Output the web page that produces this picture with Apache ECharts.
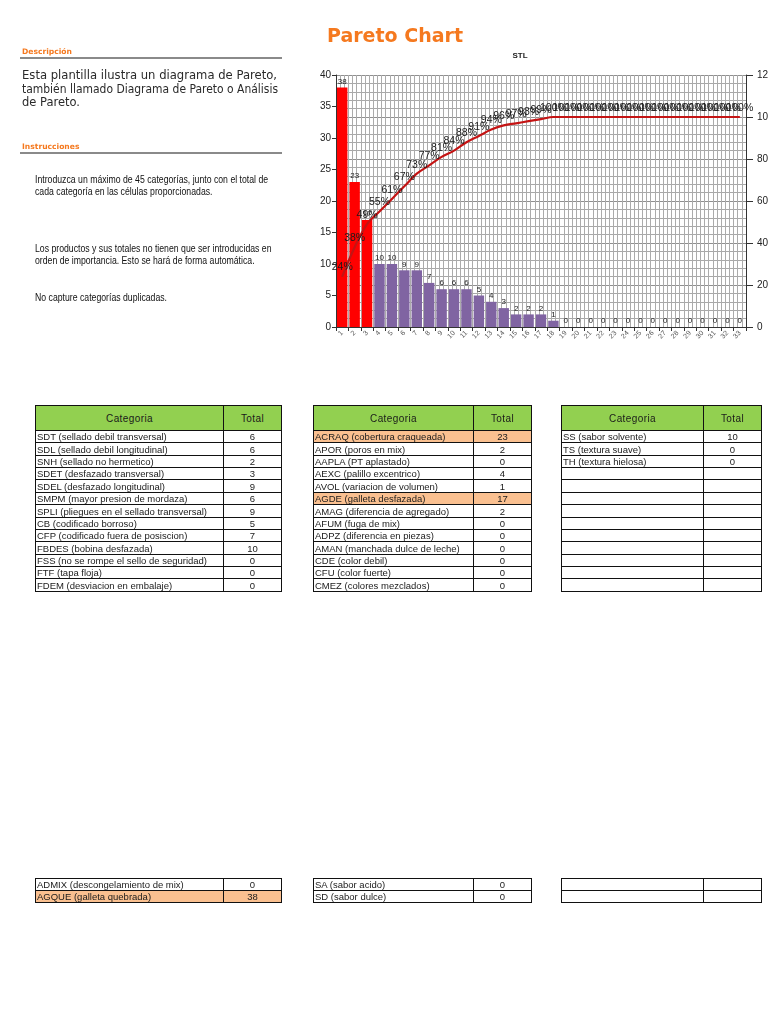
<!DOCTYPE html>
<html>
<head>
<meta charset="utf-8">
<script src="https://cdn.jsdelivr.net/npm/echarts@6/dist/echarts.min.js"></script>
<style>
  html, body { margin:0; padding:0; background:#fff; }
  #page { position:relative; width:768px; height:1024px; overflow:hidden; }
  #chart { position:absolute; left:0; top:0; width:768px; height:1024px; }
  .abs { position:absolute; white-space:nowrap; }
  .head { font-family:"DejaVu Sans", Verdana, sans-serif; font-weight:bold; font-size:7.6px; color:#F5791F; }
  .rule { position:absolute; height:2px; background:#8a8a8a; }
  .desc { font-family:"DejaVu Sans", Verdana, sans-serif; font-size:11.4px; color:#2a2a2a; line-height:13.5px; transform-origin:0 0; }
  .instr { font-family:"Liberation Sans", Arial, sans-serif; font-size:10px; color:#111; transform:scaleX(0.87); transform-origin:0 0; line-height:12px; }
  .cell { position:absolute; box-sizing:border-box; border:1px solid #111; font-family:"Liberation Sans", Arial, sans-serif; font-size:9.5px; color:#1a1a1a; overflow:hidden; white-space:nowrap; display:flex; align-items:center; }
  .cell.l { padding-left:1px; justify-content:flex-start; }
  .cell.c { justify-content:center; }
  .cell.h { background:#92D050; letter-spacing:0.4px; font-size:10px; }
  .cell.hl { background:#FAC090; }
</style>
</head>
<body>
<div id="page">
  <div id="chart"></div>
</div>
<script>
// ---------- chart data ----------
const categories = ['1','2','3','4','5','6','7','8','9','10','11','12','13','14','15','16','17','18','19','20','21','22','23','24','25','26','27','28','29','30','31','32','33'];
const barValues = [38,23,17,10,10,9,9,7,6,6,6,5,4,3,2,2,2,1,0,0,0,0,0,0,0,0,0,0,0,0,0,0,0];
const cumulativePct = [24,38,49,55,61,67,73,77,81,84,88,91,94,96,97,98,99,100,100,100,100,100,100,100,100,100,100,100,100,100,100,100,100];
const leftTicks = [0,5,10,15,20,25,30,35,40];
const rightTicks = [0,20,40,60,80,100,120];

// ---------- table data ----------
const t1Names = ['SDT (sellado debil transversal)','SDL (sellado debil longitudinal)','SNH (sellado no hermetico)','SDET (desfazado transversal)','SDEL (desfazado longitudinal)','SMPM (mayor presion de mordaza)','SPLI (pliegues en el sellado transversal)','CB (codificado borroso)','CFP (codificado fuera de posiscion)','FBDES (bobina desfazada)','FSS (no se rompe el sello de seguridad)','FTF (tapa floja)','FDEM (desviacion en embalaje)'];
const t1Totals = ['6','6','2','3','9','6','9','5','7','10','0','0','0'];
const t2Names = ['ACRAQ (cobertura craqueada)','APOR (poros en mix)','AAPLA (PT aplastado)','AEXC (palillo excentrico)','AVOL (variacion de volumen)','AGDE (galleta desfazada)','AMAG (diferencia de agregado)','AFUM (fuga de mix)','ADPZ (diferencia en piezas)','AMAN (manchada dulce de leche)','CDE (color debil)','CFU (color fuerte)','CMEZ (colores mezclados)'];
const t2Totals = ['23','2','0','4','1','17','2','0','0','0','0','0','0'];
const t3Names = ['SS (sabor solvente)','TS (textura suave)','TH (textura hielosa)','','','','','','','','','',''];
const t3Totals = ['10','0','0','','','','','','','','','',''];
const t1LowNames = ['ADMIX (descongelamiento de mix)','AGQUE (galleta quebrada)'];
const t1LowTotals = ['0','38'];
const t2LowNames = ['SA (sabor acido)','SD (sabor dulce)'];
const t2LowTotals = ['0','0'];
const t3LowNames = ['',''];
const t3LowTotals = ['',''];
const highlighted = ['ACRAQ (cobertura craqueada)','AGDE (galleta desfazada)','AGQUE (galleta quebrada)'];

// ---------- static text ----------
const page = document.getElementById('page');
function addDiv(cls, text, left, top, extra) {
  const d = document.createElement('div');
  d.className = 'abs ' + cls;
  d.textContent = text;
  d.style.left = left + 'px';
  d.style.top = top + 'px';
  if (extra) Object.assign(d.style, extra);
  page.appendChild(d);
  return d;
}
function fitWidth(d, target) {
  const w = d.getBoundingClientRect().width;
  if (w > 0) d.style.transform = 'scaleX(' + (target / w).toFixed(4) + ')';
}
addDiv('head', 'Descripción', 22, 47);
addDiv('rule', '', 20, 57, {width:'262px'});
fitWidth(addDiv('desc', 'Esta plantilla ilustra un diagrama de Pareto,', 22, 69), 255);
fitWidth(addDiv('desc', 'también llamado Diagrama de Pareto o Análisis', 22, 83), 256);
fitWidth(addDiv('desc', 'de Pareto.', 22, 96), 58);
addDiv('head', 'Instrucciones', 22, 142);
addDiv('rule', '', 20, 152, {width:'262px'});
addDiv('instr', 'Introduzca un máximo de 45 categorías, junto con el total de', 35, 174);
addDiv('instr', 'cada categoría en las células proporcionadas.', 35, 186);
addDiv('instr', 'Los productos y sus totales no tienen que ser introducidas en', 35, 243);
addDiv('instr', 'orden de importancia. Esto se hará de forma automática.', 35, 255);
addDiv('instr', 'No capture categorías duplicadas.', 35, 292);

// ---------- tables ----------
function cell(x, y, w, h, text, cls) {
  const d = document.createElement('div');
  d.className = 'cell ' + cls;
  d.style.left = x + 'px'; d.style.top = y + 'px';
  d.style.width = (w + 1) + 'px'; d.style.height = (h + 1) + 'px';
  d.textContent = text;
  page.appendChild(d);
}
function table(x, w1, w2, top, names, totals, withHeader, rowH) {
  let y = top;
  if (withHeader) {
    cell(x, y, w1, 25, 'Categoria', 'c h');
    cell(x + w1, y, w2, 25, 'Total', 'c h');
    y += 25;
  }
  names.forEach((n, i) => {
    const hl = highlighted.includes(n) ? ' hl' : '';
    const ry = Math.round(y + i * rowH);
    const rh = Math.round(y + (i + 1) * rowH) - ry;
    cell(x, ry, w1, rh, n, 'l' + hl);
    cell(x + w1, ry, w2, rh, totals[i], 'c' + hl);
  });
}
table(35, 188, 58, 405, t1Names, t1Totals, true, 12.36);
table(313, 160, 58, 405, t2Names, t2Totals, true, 12.36);
table(561, 142, 58, 405, t3Names, t3Totals, true, 12.36);
table(35, 188, 58, 878, t1LowNames, t1LowTotals, false, 12.2);
table(313, 160, 58, 878, t2LowNames, t2LowTotals, false, 12.2);
table(561, 142, 58, 878, t3LowNames, t3LowTotals, false, 12.2);

// ---------- chart ----------
const chart = echarts.init(document.getElementById('chart'), null, {renderer:'canvas'});
const axisFont = {fontFamily:'Liberation Sans, Arial, sans-serif', fontSize:10, color:'#222'};
chart.setOption({
  animation:false,
  backgroundColor:'transparent',
  title:[
    {text:'Pareto Chart', left:322, top:23, textStyle:{fontFamily:'DejaVu Sans, Verdana, sans-serif', fontWeight:'bold', fontSize:19, color:'#F5791F'}},
    {text:'STL', left:515, top:47, textAlign:'center', textStyle:{fontFamily:'Liberation Sans, Arial, sans-serif', fontWeight:'bold', fontSize:8, color:'#222'}}
  ],
  grid:{left:336, top:75, width:410, height:252, containLabel:false, outerBoundsMode:'none'},
  xAxis:[
    {type:'category', data:categories, boundaryGap:true,
     axisLine:{lineStyle:{color:'#333'}},
     axisTick:{show:true, length:4, lineStyle:{color:'#333'}},
     axisLabel:{interval:0, rotate:45, fontSize:7, color:'#555', margin:5, fontFamily:'Liberation Sans, Arial, sans-serif'},
     splitLine:{show:true, interval:0, lineStyle:{color:'#858585', width:1}}},
    {type:'value', min:0, max:99, interval:1, position:'bottom',
     axisLine:{show:false}, axisTick:{show:false}, axisLabel:{show:false},
     splitLine:{show:true, lineStyle:{color:'#ababab', width:1}}}
  ],
  yAxis:[
    {type:'value', min:leftTicks[0], max:leftTicks[leftTicks.length-1], interval:leftTicks[1]-leftTicks[0], position:'left',
     axisLine:{show:true, lineStyle:{color:'#333'}},
     axisTick:{show:true, length:4, lineStyle:{color:'#333'}},
     axisLabel:Object.assign({margin:5}, axisFont),
     splitLine:{show:false}},
    {type:'value', min:rightTicks[0], max:rightTicks[rightTicks.length-1], interval:rightTicks[1]-rightTicks[0], position:'right',
     axisLine:{show:true, lineStyle:{color:'#333'}},
     axisTick:{show:true, length:7, lineStyle:{color:'#333'}},
     axisLabel:Object.assign({margin:11}, axisFont),
     minorTick:{show:true, splitNumber:5, length:0},
     splitLine:{show:true, lineStyle:{color:'#909090', width:1}},
     minorSplitLine:{show:true, lineStyle:{color:'#a8a8a8', width:1}}}
  ],
  series:[
    {type:'bar', xAxisIndex:0, yAxisIndex:0, barCategoryGap:'16%',
     data:barValues.map((v, i) => ({value:v, itemStyle:{color: i < 3 ? '#FF0000' : '#8064A2'}})),
     label:{show:true, position:'top', distance:2, fontSize:8, color:'#222', fontFamily:'Liberation Sans, Arial, sans-serif'},
     z:3},
    {type:'line', xAxisIndex:0, yAxisIndex:1, data:cumulativePct, smooth:0.35,
     symbol:'circle', symbolSize:1, showSymbol:true,
     itemStyle:{color:'#C41414'},
     lineStyle:{color:'#C41414', width:2.2},
     label:{show:true, position:'top', distance:3, formatter:'{c}%', fontSize:10.5, color:'#1a1a1a', fontFamily:'Liberation Sans, Arial, sans-serif'},
     z:4}
  ]
});
</script>
</body>
</html>
